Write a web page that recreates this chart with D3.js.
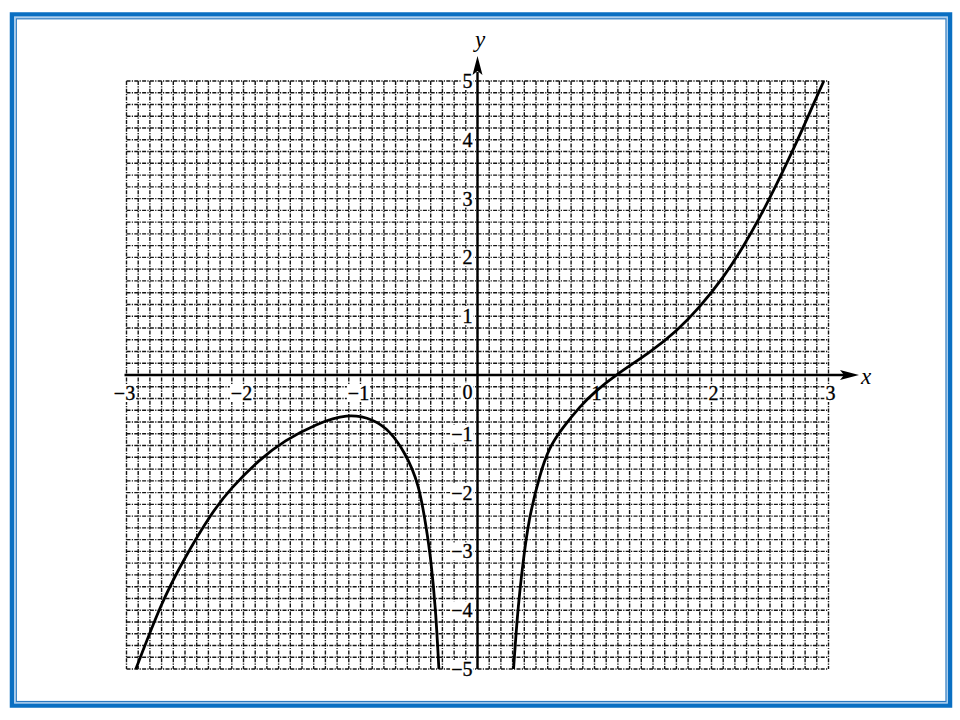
<!DOCTYPE html>
<html>
<head>
<meta charset="utf-8">
<script src="https://cdn.jsdelivr.net/npm/d3@7/dist/d3.min.js"></script>
<style>
  html, body { margin: 0; padding: 0; background: #fff; }
  svg { display: block; }
</style>
</head>
<body>
<script>
// ---- data ----
const xTicks = [-3, -2, -1, 1, 2, 3];
const yTicks = [-5, -4, -3, -2, -1, 1, 2, 3, 4, 5];
const leftX = [-2.92, -2.71, -2.51, -2.29, -2.10, -1.87, -1.64, -1.38, -1.12, -0.90, -0.75, -0.625, -0.51, -0.44, -0.40, -0.36, -0.33];
const leftY = [-5.0, -3.95, -3.15, -2.42, -1.925, -1.465, -1.12, -0.85, -0.70, -0.77, -0.98, -1.33, -1.88, -2.58, -3.15, -4.0, -5.0];
const rightX = [0.308, 0.345, 0.388, 0.445, 0.53, 0.616, 0.73, 0.873, 1.016, 1.216, 1.47, 1.70, 1.90, 2.10, 2.27, 2.41, 2.53, 2.64, 2.76, 2.86, 2.96];
const rightY = [-5.0, -4.03, -3.22, -2.45, -1.74, -1.26, -0.90, -0.55, -0.27, 0.04, 0.39, 0.758, 1.168, 1.668, 2.186, 2.676, 3.138, 3.589, 4.105, 4.555, 5.0];

const W = 960, H = 720;
const svg = d3.select("body").append("svg").attr("width", W).attr("height", H);

// frame
svg.append("rect").attr("x", 12).attr("y", 14.5).attr("width", 938).attr("height", 691)
  .attr("fill", "none").attr("stroke", "#0a6fc2").attr("stroke-width", 4.5);
svg.append("rect").attr("x", 14.8).attr("y", 17.2).attr("width", 932.4).attr("height", 685.6)
  .attr("fill", "none").attr("stroke", "#a9cdee").attr("stroke-width", 1.5);
svg.append("rect").attr("x", 16.3).attr("y", 18.8).attr("width", 929.7).attr("height", 682.7)
  .attr("fill", "none").attr("stroke", "#2a78c0").attr("stroke-width", 1.2);

const x = d3.scaleLinear().domain([-3, 3]).range([126.5, 828.5]);
const y = d3.scaleLinear().domain([-5, 5]).range([669, 81]);

// grid
const g = svg.append("g");
const vIdx = d3.range(0, 61);      // x every 0.1
const hIdx = d3.range(0, 51);      // y every 0.2
g.selectAll("line.v").data(vIdx).join("line")
  .attr("x1", i => x(-3 + i / 10)).attr("x2", i => x(-3 + i / 10))
  .attr("y1", y(5)).attr("y2", y(-5))
  .attr("stroke", "#151515").attr("stroke-width", 1.4)
  .attr("stroke-dasharray", "4,1.3,1.2,1.3");
g.selectAll("line.h").data(hIdx).join("line")
  .attr("y1", i => y(-5 + i / 5)).attr("y2", i => y(-5 + i / 5))
  .attr("x1", x(-3)).attr("x2", x(3))
  .attr("stroke", "#151515").attr("stroke-width", 1.4)
  .attr("stroke-dasharray", "4,1.3,1.2,1.3");

const fmt = v => (v < 0 ? "\u2212" + Math.abs(v) : String(v));
const font = "Liberation Serif, Times New Roman, serif";

// label layer (white backgrounds blank out the grid behind the numbers)
const bgLayer = svg.append("g");
const labelLayer = svg.append("g");

function styleText(sel) {
  return sel.attr("font-family", font).attr("font-size", 20)
    .attr("fill", "#000").attr("stroke", "#000").attr("stroke-width", 0.35);
}

styleText(labelLayer.selectAll("text.xt").data(xTicks).join("text")
  .attr("x", d => x(d) + (d < 0 ? -2 : 2)).attr("y", y(0) + 25)
  .attr("text-anchor", "middle"))
  .text(fmt);
styleText(labelLayer.append("text").attr("x", x(0) - 10).attr("y", y(0) + 24)
  .attr("text-anchor", "middle")).text("0");
styleText(labelLayer.selectAll("text.yt").data(yTicks).join("text")
  .attr("x", x(0) - 5).attr("y", d => y(d) + 7)
  .attr("text-anchor", "end"))
  .text(fmt);

labelLayer.selectAll("text").each(function () {
  const b = this.getBBox();
  bgLayer.append("rect")
    .attr("x", b.x - 1).attr("y", b.y + 2).attr("width", b.width + 2).attr("height", b.height - 4)
    .attr("fill", "#fff");
});

// axes
svg.append("line").attr("x1", x(-3) - 2).attr("x2", 845).attr("y1", y(0)).attr("y2", y(0))
  .attr("stroke", "#000").attr("stroke-width", 2.4);
svg.append("path").attr("d", `M859,${y(0)} L840,${y(0) - 5} L844,${y(0)} L840,${y(0) + 5} Z`).attr("fill", "#000");
svg.append("line").attr("x1", x(0)).attr("x2", x(0)).attr("y1", y(-5)).attr("y2", 72)
  .attr("stroke", "#000").attr("stroke-width", 2.4);
svg.append("path").attr("d", `M${x(0)},56 L${x(0) - 5},75 L${x(0)},71 L${x(0) + 5},75 Z`).attr("fill", "#000");

svg.append("text").attr("x", 866).attr("y", 384).attr("text-anchor", "middle")
  .attr("font-family", font).attr("font-style", "italic").attr("font-size", 23).text("x");
svg.append("text").attr("x", 480).attr("y", 47).attr("text-anchor", "middle")
  .attr("font-family", font).attr("font-style", "italic").attr("font-size", 23).text("y");

// curve
const line = d3.line().x(d => x(d[0])).y(d => y(d[1])).curve(d3.curveNatural);
const left = leftX.map((v, i) => [v, leftY[i]]);
const right = rightX.map((v, i) => [v, rightY[i]]);
[left, right].forEach(pts => {
  svg.append("path").attr("d", line(pts)).attr("fill", "none")
    .attr("stroke", "#000").attr("stroke-width", 2.8).attr("stroke-linecap", "butt");
});
</script>
</body>
</html>
